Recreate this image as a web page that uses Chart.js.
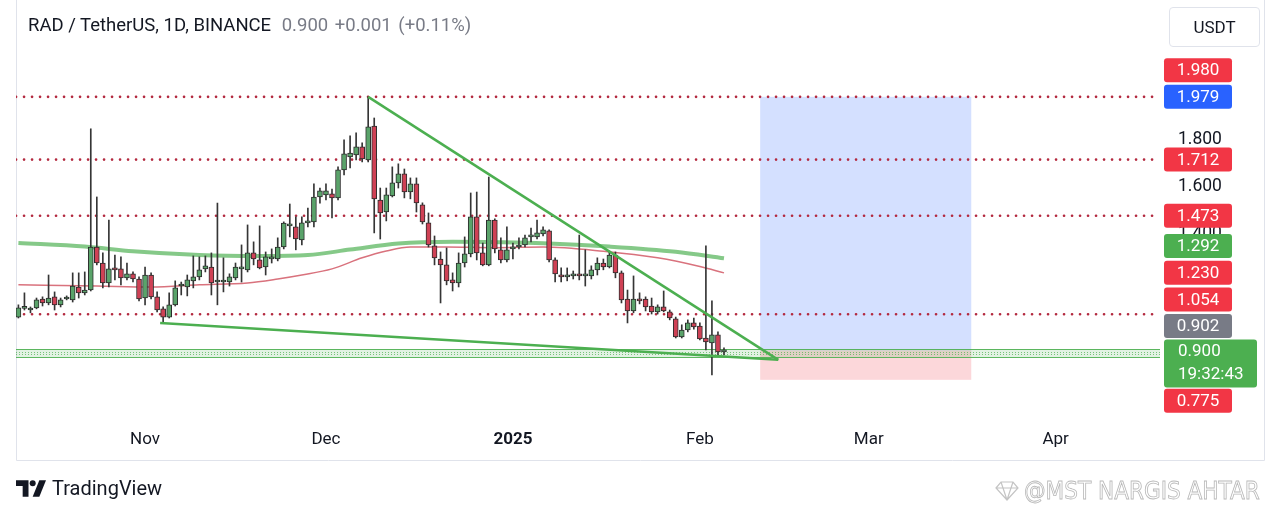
<!DOCTYPE html>
<html lang="en">
<head>
<meta charset="UTF-8" />
<title>RAD / TetherUS, 1D, BINANCE</title>
<script src="https://cdn.jsdelivr.net/npm/chart.js"></script>
<style>
  body { margin: 0; background: #fff; font-family: Roboto, "Noto Sans", sans-serif; }
  .wrap { position: relative; width: 1280px; height: 514px; overflow: hidden; }
  canvas { position: absolute; left: 0; top: 0; }
  .title { position: absolute; left: 28px; top: 14px; font-size: 18.5px; color: #131722; white-space: nowrap; }
  .title .quote { color: #787b86; margin-left: 6px; word-spacing: 2px; }
  .unit { position: absolute; left: 1169px; top: 7px; width: 89px; height: 38px; border: 1px solid #e0e3eb;
          border-radius: 4px; text-align: center; line-height: 38px; font-size: 17px; color: #131722; }
  .brand { position: absolute; left: 16px; top: 476px; display: flex; align-items: center; gap: 6px;
           font-size: 20px; color: #131722; }
  .mark { position: absolute; left: 994px; top: 477px; display: flex; align-items: center; gap: 4px;
          font-family: "DejaVu Sans Condensed", "Liberation Sans Narrow", sans-serif; font-size: 24px;
          color: #fff; -webkit-text-stroke: 0.8px #b9b9b9; white-space: nowrap; }
</style>
</head>
<body>
<div class="wrap">
  <canvas id="radChart" width="1280" height="514"></canvas>
  <div class="title">RAD / TetherUS, 1D, BINANCE <span class="quote">0.900 +0.001 (+0.11%)</span></div>
  <div class="unit">USDT</div>
  <div class="brand">
    <svg width="30" height="17" viewBox="0 0 36 20">
      <path d="M0 0h15v20H8V7H0z" fill="#131722"/>
      <circle cx="20" cy="3.6" r="3.6" fill="#131722"/>
      <path d="M28 0h8l-8 20h-8z" fill="#131722"/>
    </svg>
    <span>TradingView</span>
  </div>
  <div class="mark">
    <svg width="26" height="22" viewBox="0 0 26 22">
      <path d="M2 8l5-6h12l5 6-11 12z M2 8h22 M7 2l6 18 M19 2l-6 18" fill="none" stroke="#c4c4c4" stroke-width="1.2"/>
    </svg>
    <span>@MST NARGIS AHTAR</span>
  </div>
</div>

<script>
// day numbers count from 1 Nov 2024 (= 0); first candle is 11 Oct 2024
const firstDay = -21;

const opens = [
  1.042, 1.079, 1.072, 1.081, 1.119, 1.102, 1.128, 1.094, 1.119, 1.115,
  1.170, 1.145, 1.157, 1.340, 1.272, 1.187, 1.247, 1.247, 1.209, 1.226,
  1.204, 1.123, 1.221, 1.128, 1.077, 1.042, 1.094, 1.174, 1.170, 1.196,
  1.213, 1.247, 1.255, 1.191, 1.191, 1.191, 1.209, 1.247, 1.243, 1.315,
  1.285, 1.255, 1.289, 1.289, 1.340, 1.430, 1.426, 1.370, 1.443, 1.447,
  1.553, 1.562, 1.566, 1.549, 1.668, 1.723, 1.732, 1.766, 1.711, 1.855,
  1.540, 1.489, 1.557, 1.613, 1.651, 1.574, 1.609, 1.519, 1.443, 1.345,
  1.289, 1.264, 1.200, 1.187, 1.272, 1.311, 1.468, 1.315, 1.264, 1.455,
  1.328, 1.285, 1.332, 1.340, 1.349, 1.383, 1.383, 1.396, 1.409, 1.285,
  1.217, 1.213, 1.217, 1.221, 1.217, 1.217, 1.243, 1.272, 1.255, 1.306,
  1.230, 1.119, 1.068, 1.115, 1.119, 1.089, 1.064, 1.085, 1.064, 1.034,
  0.957, 0.987, 1.017, 1.004, 0.953, 0.932, 0.966, 0.894
];
const highs = [
  1.094, 1.145, 1.085, 1.123, 1.128, 1.221, 1.149, 1.123, 1.132, 1.230,
  1.230, 1.234, 1.843, 1.553, 1.315, 1.455, 1.306, 1.298, 1.272, 1.234,
  1.213, 1.255, 1.230, 1.149, 1.085, 1.145, 1.196, 1.191, 1.221, 1.302,
  1.298, 1.302, 1.315, 1.527, 1.294, 1.226, 1.272, 1.349, 1.434, 1.362,
  1.430, 1.319, 1.332, 1.379, 1.447, 1.523, 1.468, 1.468, 1.506, 1.609,
  1.591, 1.609, 1.587, 1.681, 1.796, 1.813, 1.826, 1.783, 1.979, 1.889,
  1.591, 1.591, 1.681, 1.694, 1.672, 1.634, 1.634, 1.528, 1.485, 1.387,
  1.319, 1.336, 1.230, 1.315, 1.383, 1.570, 1.574, 1.357, 1.638, 1.460,
  1.379, 1.426, 1.357, 1.379, 1.391, 1.421, 1.455, 1.426, 1.413, 1.294,
  1.251, 1.251, 1.238, 1.391, 1.328, 1.260, 1.294, 1.289, 1.323, 1.319,
  1.238, 1.157, 1.217, 1.145, 1.128, 1.123, 1.094, 1.153, 1.072, 1.042,
  1.009, 1.030, 1.038, 1.017, 1.345, 1.111, 0.979, 0.911
];
const lows = [
  1.038, 1.072, 1.060, 1.077, 1.089, 1.094, 1.072, 1.085, 1.115, 1.106,
  1.123, 1.136, 1.153, 1.264, 1.166, 1.170, 1.200, 1.179, 1.200, 1.191,
  1.111, 1.094, 1.119, 1.064, 1.021, 1.038, 1.089, 1.136, 1.132, 1.166,
  1.200, 1.234, 1.136, 1.094, 1.149, 1.174, 1.200, 1.191, 1.234, 1.264,
  1.247, 1.221, 1.272, 1.281, 1.332, 1.383, 1.328, 1.349, 1.426, 1.426,
  1.527, 1.540, 1.464, 1.540, 1.647, 1.677, 1.711, 1.702, 1.702, 1.400,
  1.374, 1.451, 1.553, 1.591, 1.549, 1.545, 1.489, 1.438, 1.340, 1.264,
  1.102, 1.179, 1.153, 1.170, 1.255, 1.298, 1.285, 1.260, 1.260, 1.315,
  1.272, 1.277, 1.289, 1.332, 1.340, 1.362, 1.374, 1.387, 1.277, 1.191,
  1.191, 1.196, 1.204, 1.200, 1.174, 1.204, 1.221, 1.243, 1.251, 1.209,
  1.102, 1.017, 1.060, 1.098, 1.068, 1.055, 1.055, 1.064, 1.030, 0.953,
  0.953, 0.979, 0.991, 0.945, 0.902, 0.796, 0.881, 0.881
];
const closes = [
  1.081, 1.081, 1.077, 1.115, 1.102, 1.123, 1.094, 1.115, 1.123, 1.174,
  1.145, 1.157, 1.340, 1.272, 1.187, 1.247, 1.243, 1.209, 1.226, 1.204,
  1.119, 1.221, 1.128, 1.072, 1.042, 1.094, 1.166, 1.179, 1.200, 1.213,
  1.243, 1.260, 1.187, 1.196, 1.196, 1.213, 1.255, 1.255, 1.315, 1.289,
  1.251, 1.298, 1.298, 1.340, 1.442, 1.438, 1.374, 1.443, 1.451, 1.553,
  1.579, 1.579, 1.549, 1.668, 1.736, 1.740, 1.766, 1.715, 1.851, 1.545,
  1.485, 1.562, 1.613, 1.651, 1.574, 1.609, 1.528, 1.447, 1.349, 1.294,
  1.264, 1.196, 1.187, 1.272, 1.311, 1.468, 1.315, 1.264, 1.455, 1.332,
  1.285, 1.328, 1.336, 1.345, 1.379, 1.387, 1.400, 1.413, 1.285, 1.226,
  1.213, 1.217, 1.221, 1.217, 1.221, 1.243, 1.272, 1.255, 1.306, 1.230,
  1.115, 1.068, 1.119, 1.111, 1.085, 1.064, 1.085, 1.068, 1.038, 0.957,
  0.987, 1.017, 1.000, 0.949, 0.936, 0.966, 0.894, 0.900
];

// moving averages, read at a few days along the curves
const maGreenDays = [-21, -10, -2, 9, 19, 27, 34, 42, 51, 59, 66, 77, 88, 96];
const maGreenValues = [1.357, 1.342, 1.322, 1.306, 1.302, 1.306, 1.329, 1.355, 1.362, 1.360, 1.356, 1.342, 1.320, 1.292];
const maRedDays = [-21, -8, 1, 9, 17, 22, 26, 31, 36, 40, 44, 50, 58, 66, 76, 85, 92, 96];
const maRedValues = [1.179, 1.174, 1.170, 1.179, 1.187, 1.204, 1.221, 1.247, 1.294, 1.323, 1.340, 1.340, 1.337, 1.340, 1.322, 1.294, 1.257, 1.230];

// drawn objects
const upperTrendDays = [37, 105];
const upperTrendValues = [1.979, 0.860];
const lowerTrendDays = [2.5, 105];
const lowerTrendValues = [1.017, 0.860];
const levelValues = [1.979, 1.712, 1.473, 1.054];
const supportZone = [0.872, 0.906];
const positionDays = [102, 137];
const positionTarget = 1.979;
const positionEntry = 0.900;
const positionStop = 0.775;

// axes
const xMin = -21.4, xMax = 168.3;
const yMin = 0.604, yMax = 2.357;
const monthTicks = [0, 30, 61, 92, 120, 151];
const monthLabels = ['Nov', 'Dec', '2025', 'Feb', 'Mar', 'Apr'];
const priceTicks = [1.8, 1.6, 1.4];

// price scale labels
const lastPrice = 0.900;
const countdown = '19:32:43';
const labelValues = [1.980, 1.979, 1.712, 1.473, 1.292, 1.230, 1.054, 0.902, 0.775];
const labelColors = ['#f23645', '#2962ff', '#f23645', '#f23645', '#4caf50', '#f23645', '#f23645', '#787b86', '#f23645'];

const upColor = '#5aa36a';
const downColor = '#cf4155';
const candleDays = opens.map((_, i) => firstDay + i);

function roundRect(ctx, x, y, w, h, r) {
  ctx.beginPath();
  ctx.moveTo(x + r, y);
  ctx.lineTo(x + w - r, y);
  ctx.quadraticCurveTo(x + w, y, x + w, y + r);
  ctx.lineTo(x + w, y + h - r);
  ctx.quadraticCurveTo(x + w, y + h, x + w - r, y + h);
  ctx.lineTo(x + r, y + h);
  ctx.quadraticCurveTo(x, y + h, x, y + h - r);
  ctx.lineTo(x, y + r);
  ctx.quadraticCurveTo(x, y, x + r, y);
  ctx.closePath();
}

const overlayPlugin = {
  id: 'overlay',
  beforeDraw(chart) {
    const ctx = chart.ctx;
    ctx.save();
    ctx.fillStyle = '#fff';
    ctx.fillRect(0, 0, chart.width, chart.height);
    ctx.strokeStyle = '#e0e3eb';
    ctx.lineWidth = 1;
    ctx.beginPath();
    ctx.moveTo(16.5, 0);
    ctx.lineTo(16.5, 460.5);
    ctx.lineTo(1264.5, 460.5);
    ctx.lineTo(1264.5, 0);
    ctx.stroke();
    ctx.restore();
  },
  beforeDatasetsDraw(chart) {
    const { ctx, chartArea: a, scales: { x, y } } = chart;
    ctx.save();
    ctx.beginPath();
    ctx.rect(a.left, a.top, a.right - a.left, a.bottom - a.top);
    ctx.clip();

    // long position box
    const px0 = x.getPixelForValue(positionDays[0]);
    const px1 = x.getPixelForValue(positionDays[1]);
    const yT = y.getPixelForValue(positionTarget);
    const yE = y.getPixelForValue(positionEntry);
    const yS = y.getPixelForValue(positionStop);
    ctx.fillStyle = 'rgba(41,98,255,0.2)';
    ctx.fillRect(px0, yT, px1 - px0, yE - yT);
    ctx.fillStyle = 'rgba(242,54,69,0.2)';
    ctx.fillRect(px0, yE, px1 - px0, yS - yE);

    // support zone
    const zTop = y.getPixelForValue(supportZone[1]);
    const zBot = y.getPixelForValue(supportZone[0]);
    ctx.fillStyle = 'rgba(76,175,80,0.16)';
    ctx.fillRect(a.left, zTop, a.right - a.left, zBot - zTop);
    ctx.strokeStyle = 'rgba(76,175,80,0.9)';
    ctx.lineWidth = 1;
    ctx.beginPath();
    ctx.moveTo(a.left, Math.round(zTop) + 0.5);
    ctx.lineTo(a.right, Math.round(zTop) + 0.5);
    ctx.moveTo(a.left, Math.round(zBot) + 0.5);
    ctx.lineTo(a.right, Math.round(zBot) + 0.5);
    ctx.stroke();
    ctx.setLineDash([1, 2]);
    ctx.strokeStyle = 'rgba(76,175,80,0.7)';
    ctx.beginPath();
    const zMid1 = zTop + (zBot - zTop) / 3, zMid2 = zTop + 2 * (zBot - zTop) / 3;
    ctx.moveTo(a.left, Math.round(zMid1) + 0.5);
    ctx.lineTo(a.right, Math.round(zMid1) + 0.5);
    ctx.moveTo(a.left, Math.round(zMid2) + 0.5);
    ctx.lineTo(a.right, Math.round(zMid2) + 0.5);
    ctx.stroke();
    ctx.restore();
  },
  afterDraw(chart) {
    const { ctx, scales: { y } } = chart;
    const boxL = 1164, boxW = 68, boxH = 24, step = 26.7;

    // price scale tick labels (drawn here so the label boxes can cover them)
    ctx.save();
    ctx.font = '17.5px Roboto';
    ctx.textBaseline = 'middle';
    ctx.textAlign = 'left';
    ctx.fillStyle = '#131722';
    priceTicks.forEach(v => ctx.fillText(v.toFixed(3), 1178, y.getPixelForValue(v) + 1));

    const curY = y.getPixelForValue(lastPrice);
    const curTop = curY - 11, curBottom = curY + 37;

    const items = labelValues.map((v, i) => ({ v, color: labelColors[i], want: y.getPixelForValue(v) }));
    const above = items.filter(it => it.v > lastPrice).sort((p, q) => p.v - q.v);
    const below = items.filter(it => it.v < lastPrice).sort((p, q) => q.v - p.v);
    let limit = curTop;
    above.forEach(it => { it.cy = Math.min(it.want, limit - step / 2); limit = it.cy - step / 2; });
    limit = curBottom;
    below.forEach(it => { it.cy = Math.max(it.want, limit + step / 2); limit = it.cy + step / 2; });

    ctx.font = '17px Roboto';
    items.forEach(it => {
      ctx.fillStyle = it.color;
      roundRect(ctx, boxL, it.cy - boxH / 2, boxW, boxH, 3);
      ctx.fill();
      ctx.fillStyle = '#fff';
      ctx.textAlign = 'center';
      ctx.fillText(it.v.toFixed(3), boxL + boxW / 2, it.cy + 1);
    });

    ctx.fillStyle = '#4caf50';
    roundRect(ctx, boxL, curTop, 93, curBottom - curTop, 3);
    ctx.fill();
    ctx.fillStyle = '#fff';
    ctx.textAlign = 'left';
    ctx.fillText(lastPrice.toFixed(3), 1178, curY + 1);
    ctx.fillText(countdown, 1178, curY + 24);
    ctx.restore();
  }
};

const lineStyle = { type: 'line', pointRadius: 0, fill: false };

const datasets = [
  Object.assign({}, lineStyle, {
    label: 'Upper trend',
    data: upperTrendDays.map((d, i) => ({ x: d, y: upperTrendValues[i] })),
    borderColor: '#4caf50', borderWidth: 2.5, order: -2
  }),
  Object.assign({}, lineStyle, {
    label: 'Lower trend',
    data: lowerTrendDays.map((d, i) => ({ x: d, y: lowerTrendValues[i] })),
    borderColor: '#4caf50', borderWidth: 2.5, order: -2
  }),
  {
    label: 'Bodies',
    data: candleDays.map((d, i) => ({ x: d, y: [opens[i], closes[i]] })),
    backgroundColor: (c) => closes[c.dataIndex] >= opens[c.dataIndex] ? upColor : downColor,
    borderColor: '#2d2d2d', borderWidth: 1, borderSkipped: false,
    barThickness: 5, minBarLength: 2, grouped: false, order: 0
  },
  {
    label: 'Wicks',
    data: candleDays.map((d, i) => ({ x: d, y: [lows[i], highs[i]] })),
    backgroundColor: '#353535', barThickness: 1, grouped: false, order: 1
  },
  Object.assign({}, lineStyle, {
    label: 'MA long',
    data: maGreenDays.map((d, i) => ({ x: d, y: maGreenValues[i] })),
    borderColor: 'rgba(102,187,106,0.8)', borderWidth: 4, cubicInterpolationMode: 'monotone', order: 3
  }),
  Object.assign({}, lineStyle, {
    label: 'MA short',
    data: maRedDays.map((d, i) => ({ x: d, y: maRedValues[i] })),
    borderColor: '#d9727d', borderWidth: 1.5, cubicInterpolationMode: 'monotone', order: 3
  })
];

levelValues.forEach(v => {
  datasets.push(Object.assign({}, lineStyle, {
    label: 'Level ' + v,
    data: [{ x: xMin, y: v }, { x: xMax, y: v }],
    borderColor: '#b3293f', borderWidth: 2.6, borderDash: [0.1, 7.9], borderCapStyle: 'round', order: 5
  }));
});

new Chart(document.getElementById('radChart'), {
  type: 'bar',
  data: { datasets },
  options: {
    responsive: false,
    animation: false,
    layout: { padding: { left: 16, top: 8, right: 15, bottom: 54 } },
    plugins: { legend: { display: false }, tooltip: { enabled: false } },
    scales: {
      x: {
        type: 'linear', min: xMin, max: xMax, offset: false,
        grid: { display: false, drawTicks: false },
        border: { display: false },
        afterFit: (s) => { s.height = 40; },
        afterBuildTicks: (s) => { s.ticks = monthTicks.map(v => ({ value: v })); },
        ticks: {
          autoSkip: false, maxRotation: 0, padding: 10, color: '#131722',
          font: (c) => ({ family: 'Roboto', size: 17, weight: c.tick && c.tick.value === 61 ? 'bold' : 'normal' }),
          callback: (v) => monthLabels[monthTicks.indexOf(v)]
        }
      },
      y: {
        type: 'linear', position: 'right', min: yMin, max: yMax,
        grid: { display: false, drawTicks: false },
        border: { display: false },
        afterFit: (s) => { s.width = 105; },
        ticks: { display: false }
      }
    }
  },
  plugins: [overlayPlugin]
});
</script>
</body>
</html>
